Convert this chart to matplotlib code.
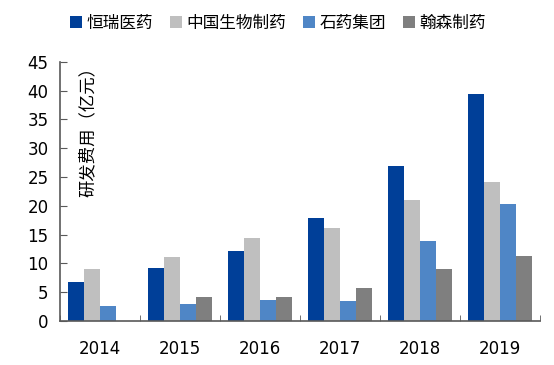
import numpy as np
import matplotlib.pyplot as plt

plt.rcParams['font.family'] = ['DejaVu Sans', 'Noto Sans CJK SC']

years = ['2014', '2015', '2016', '2017', '2018', '2019']
companies = ['恒瑞医药', '中国生物制药', '石药集团', '翰森制药']
hengrui = [6.8, 9.2, 12.2, 17.9, 27.0, 39.4]
sino_bio = [9.0, 11.1, 14.4, 16.1, 21.1, 24.2]
cspc = [2.6, 2.9, 3.7, 3.5, 13.9, 20.3]
hansoh = [0, 4.2, 4.2, 5.8, 9.0, 11.3]
colors = ['#003F98', '#BFBFBF', '#4F86C6', '#7F7F7F']

fig = plt.figure(figsize=(5.54, 3.65), dpi=100)
ax = fig.add_axes([0.108, 0.1205, 0.867, 0.71])

x = np.arange(len(years))
w = 0.2
for i, (vals, name) in enumerate(zip([hengrui, sino_bio, cspc, hansoh], companies)):
    ax.bar(x + (i - 1.5) * w, vals, width=w, color=colors[i], label=name)

ax.set_xlim(-0.5, len(years) - 0.5)
ax.set_ylim(0, 45)
ax.set_yticks(range(0, 46, 5))
ax.tick_params(axis='y', direction='in', length=5, labelsize=12, color='#595959', pad=8)
ax.set_xticks(x)
ax.set_xticklabels(years)
ax.tick_params(axis='x', which='major', length=0, labelsize=12, pad=14)
ax.set_xticks(np.arange(-0.5, len(years)), minor=True)
ax.tick_params(axis='x', which='minor', direction='in', length=4, color='#595959')

for s in ['top', 'right']:
    ax.spines[s].set_visible(False)
for s in ['left', 'bottom']:
    ax.spines[s].set_color('#595959')
    ax.spines[s].set_linewidth(1.2)

# y label sits inside the plot area, as in the source
ax.text(0.058, 0.745, '研发费用（亿元）', transform=ax.transAxes, rotation=90,
        ha='center', va='center', fontsize=12.5, family=['Noto Sans CJK SC'])

fig.legend(loc='center left', bbox_to_anchor=(0.126, 0.936), ncol=4, frameon=False,
           prop={'family': 'Noto Sans CJK SC', 'size': 12},
           handlelength=0.75, handleheight=0.75, handletextpad=0.25,
           columnspacing=1.0, borderpad=0, borderaxespad=0)

fig.savefig('out.png', dpi=100)
